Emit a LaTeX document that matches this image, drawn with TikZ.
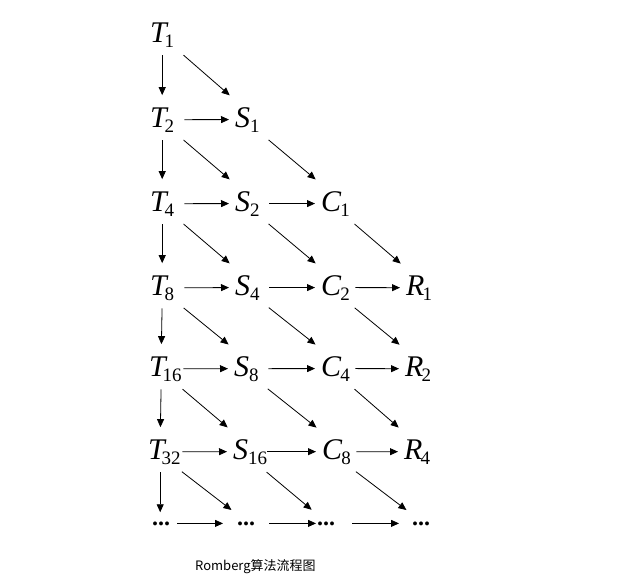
\documentclass[tikz,border=0pt]{standalone}
\usepackage{fontspec}
\setmainfont{Liberation Serif}
\newfontfamily\cjk{Noto Sans CJK SC}
\usetikzlibrary{arrows.meta}

% letter, kern before the index, index
\newcommand{\lab}[3]{\makebox[24pt][l]{\textit{#1}\kern#2\raisebox{-5pt}{\fontsize{19}{19}\selectfont #3}}}
\newcommand{\dts}{\makebox[20pt][l]{\fontsize{24}{24}\selectfont\bfseries ...}}

\begin{document}
\begin{tikzpicture}
  [x=1pt,y=-1pt,
   every node/.style={anchor=base west,inner sep=0pt,font=\fontsize{30}{32}\selectfont},
   arr/.style={-{Triangle[length=8pt,width=7pt]},line width=0.8pt}]
  \useasboundingbox (0,0) rectangle (620,584);

  \node (t1)  at (150,42)  {\lab{T}{-4pt}{1}};
  \node (t2)  at (150,127) {\lab{T}{-4pt}{2}};
  \node (t4)  at (150,211) {\lab{T}{-4pt}{4}};
  \node (t8)  at (150,295) {\lab{T}{-4pt}{8}};
  \node (t16) at (149,376) {\lab{T}{-5pt}{16}};
  \node (t32) at (148,459) {\lab{T}{-5pt}{32}};

  \node (s1)  at (235,127) {\lab{S}{0pt}{1}};
  \node (s2)  at (235,211) {\lab{S}{0pt}{2}};
  \node (s4)  at (235,295) {\lab{S}{0pt}{4}};
  \node (s8)  at (234,376) {\lab{S}{0pt}{8}};
  \node (s16) at (233,459) {\lab{S}{0pt}{16}};

  \node (c1)  at (321,211) {\lab{C}{-1pt}{1}};
  \node (c2)  at (321,295) {\lab{C}{-1pt}{2}};
  \node (c4)  at (321,376) {\lab{C}{-1pt}{4}};
  \node (c8)  at (322,459) {\lab{C}{-1pt}{8}};

  \node (r1)  at (406,295) {\lab{R}{-2pt}{1}};
  \node (r2)  at (405,376) {\lab{R}{-2pt}{2}};
  \node (r4)  at (404,459) {\lab{R}{-2pt}{4}};

  \node (d1)  at (152,525) {\dts};
  \node (d2)  at (237,525) {\dts};
  \node (d3)  at (317,525) {\dts};
  \node (d4)  at (412,525) {\dts};

  \node (cap) at (195,570) {\cjk\fontsize{13}{13}\selectfont Romberg算法流程图};

  % down the first column
  \foreach \from/\to in {t1/t2,t2/t4,t4/t8,t8/t16,t16/t32}
    \draw[arr,shorten <=8pt,shorten >=12pt] (\from.south) -- (\to.north);
  \draw[arr,shorten <=8pt,shorten >=9pt] (t32.south) -- (t32.south |- d1.north);

  % along the rows
  \foreach \from/\to in {t2/s1,t4/s2,s2/c1,t8/s4,s4/c2,c2/r1,t16/s8,s8/c4,c4/r2,t32/s16,s16/c8,c8/r4}
    \draw[arr,shorten <=10pt,shorten >=6pt] (\from.east) -- (\to.west);
  \foreach \from/\to/\a/\b in {d1/d2/5/14,d2/d3/12/1,d3/d4/15/13}
    \draw[arr,shorten <=\a pt,shorten >=\b pt] (\from.east) -- (\to.west);

  % diagonals
  \foreach \from/\to in {t1/s1,t2/s2,s1/c1,t4/s4,s2/c2,c1/r1,t8/s8,s4/c4,c2/r2,t16/s16,s8/c8,c4/r4,t32/d2,s16/d3,c8/d4}
    \draw[arr,shorten <=12pt,shorten >=7pt] (\from.south east) -- ([yshift=7pt]\to.north west);

\end{tikzpicture}
\end{document}
